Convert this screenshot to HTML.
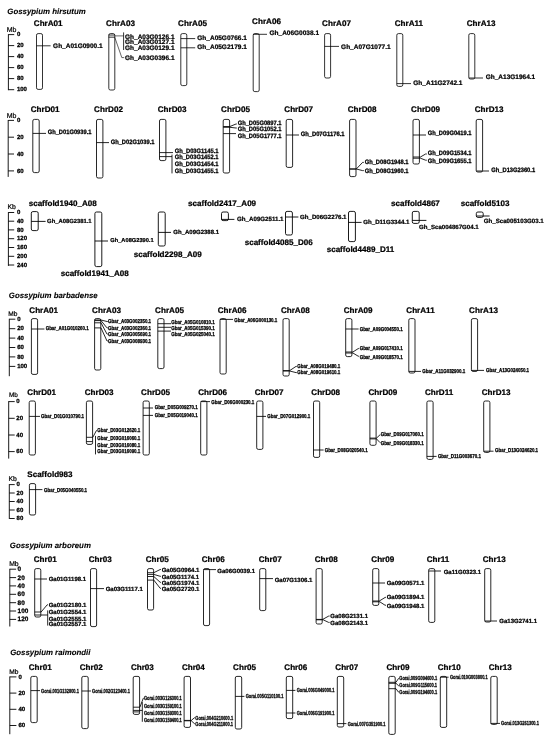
<!DOCTYPE html>
<html><head><meta charset="utf-8"><title>Chromosome map</title>
<style>
html,body{margin:0;padding:0;background:#fff}
svg{display:block;filter:blur(0.35px)}
text{font-family:"Liberation Sans",Arial,Helvetica,sans-serif;fill:#000;stroke:#000;stroke-width:0.24px;text-rendering:geometricPrecision}
.b{font-weight:bold}
.bi{font-weight:bold;font-style:italic;stroke-width:0.1px}
.r{font-weight:normal;stroke-width:0.2px}
.t{stroke-width:0.28px}
.c{stroke-width:0.28px}
rect,polyline{fill:none;stroke:#000}
</style></head><body>
<svg width="550" height="747" viewBox="0 0 550 747">
<rect x="0" y="0" width="550" height="747" style="fill:#fff;stroke:none"/>
<text x="7.3" y="13.5" font-size="7.85" class="bi">Gossypium hirsutum</text>
<text x="6.7" y="31.9" font-size="7.0" class="r">Mb</text>
<polyline points="8.4,34.2 8.4,90.2" stroke-width="0.9"/>
<polyline points="8.4,34.6 14.2,34.6" stroke-width="0.9"/>
<text x="16.9" y="36.3" font-size="6.0" class="b t">0</text>
<polyline points="8.4,45.6 14.2,45.6" stroke-width="0.9"/>
<text x="16.9" y="47.3" font-size="6.0" class="b t">20</text>
<polyline points="8.4,56.6 14.2,56.6" stroke-width="0.9"/>
<text x="16.9" y="58.3" font-size="6.0" class="b t">40</text>
<polyline points="8.4,67.6 14.2,67.6" stroke-width="0.9"/>
<text x="16.9" y="69.3" font-size="6.0" class="b t">60</text>
<polyline points="8.4,78.6 14.2,78.6" stroke-width="0.9"/>
<text x="16.9" y="80.3" font-size="6.0" class="b t">80</text>
<polyline points="8.4,89.7 14.2,89.7" stroke-width="0.9"/>
<text x="16.9" y="91.4" font-size="6.0" class="b t">100</text>
<text x="33.8" y="26.4" font-size="8.1" class="b">ChrA01</text>
<rect x="36.5" y="33.6" width="6.0" height="55.8" rx="1.6" ry="1.6" stroke-width="0.8"/>
<polyline points="36.5,45.8 50.6,45.8" stroke-width="0.8"/>
<text x="53.1" y="47.7" font-size="6.5" class="b">Gh_A01G0900.1</text>
<text x="106.1" y="26.4" font-size="8.1" class="b">ChrA03</text>
<rect x="108.8" y="33.6" width="6.0" height="56.4" rx="1.6" ry="1.6" stroke-width="0.8"/>
<polyline points="108.6,34.7 114.8,34.7" stroke-width="0.45"/>
<polyline points="108.6,35.9 123.6,35.9" stroke-width="0.6"/>
<polyline points="123.6,32.4 123.6,50.0" stroke-width="0.8"/>
<polyline points="108.6,37.4 114.8,37.4 121.8,57.6 124.2,57.6" stroke-width="0.6"/>
<text x="125.0" y="38.7" font-size="6.5" class="b">Gh_A03G0126.1</text>
<text x="125.0" y="44.0" font-size="6.5" class="b">Gh_A03G0127.1</text>
<text x="125.0" y="49.8" font-size="6.5" class="b">Gh_A03G0129.1</text>
<text x="125.0" y="60.1" font-size="6.5" class="b">Gh_A03G0396.1</text>
<text x="178.1" y="26.4" font-size="8.1" class="b">ChrA05</text>
<rect x="180.8" y="33.6" width="6.0" height="52.0" rx="1.6" ry="1.6" stroke-width="0.8"/>
<polyline points="180.8,38.6 195.2,38.6" stroke-width="0.8"/>
<text x="197.3" y="40.1" font-size="6.5" class="b">Gh_A05G0766.1</text>
<polyline points="180.8,47.8 195.2,47.8" stroke-width="0.8"/>
<text x="197.3" y="48.8" font-size="6.5" class="b">Gh_A05G2179.1</text>
<text x="252.1" y="24.0" font-size="8.1" class="b">ChrA06</text>
<rect x="253.2" y="33.6" width="6.0" height="58.0" rx="1.6" ry="1.6" stroke-width="0.8"/>
<polyline points="253.2,34.3 267.0,34.3" stroke-width="0.8"/>
<text x="269.5" y="35.3" font-size="6.5" class="b">Gh_A06G0038.1</text>
<text x="322.1" y="26.4" font-size="8.1" class="b">ChrA07</text>
<rect x="324.6" y="33.6" width="6.0" height="44.4" rx="1.6" ry="1.6" stroke-width="0.8"/>
<polyline points="324.6,46.4 339.0,46.4" stroke-width="0.8"/>
<text x="341.1" y="48.7" font-size="6.5" class="b">Gh_A07G1077.1</text>
<text x="394.7" y="26.4" font-size="8.1" class="b">ChrA11</text>
<rect x="396.8" y="33.6" width="6.0" height="52.8" rx="1.6" ry="1.6" stroke-width="0.8"/>
<polyline points="396.8,83.6 411.0,83.6" stroke-width="0.8"/>
<text x="413.3" y="85.1" font-size="6.5" class="b">Gh_A11G2742.1</text>
<text x="466.7" y="26.4" font-size="8.1" class="b">ChrA13</text>
<rect x="468.8" y="33.6" width="6.0" height="45.4" rx="1.6" ry="1.6" stroke-width="0.8"/>
<polyline points="468.8,78.0 483.0,78.0" stroke-width="0.8"/>
<text x="485.7" y="79.1" font-size="6.5" class="b">Gh_A13G1964.1</text>
<text x="6.7" y="117.5" font-size="7.0" class="r">Mb</text>
<polyline points="8.2,120.0 8.2,176.9" stroke-width="0.9"/>
<polyline points="8.2,120.4 14.0,120.4" stroke-width="0.9"/>
<text x="16.9" y="122.1" font-size="6.0" class="b t">0</text>
<polyline points="8.2,137.2 14.0,137.2" stroke-width="0.9"/>
<text x="16.9" y="138.9" font-size="6.0" class="b t">20</text>
<polyline points="8.2,154.0 14.0,154.0" stroke-width="0.9"/>
<text x="16.9" y="155.7" font-size="6.0" class="b t">40</text>
<polyline points="8.2,170.9 14.0,170.9" stroke-width="0.9"/>
<text x="16.9" y="172.6" font-size="6.0" class="b t">60</text>
<text x="30.7" y="112.2" font-size="8.1" class="b">ChrD01</text>
<rect x="32.8" y="119.4" width="6.4" height="53.2" rx="1.6" ry="1.6" stroke-width="0.85"/>
<polyline points="32.8,133.4 46.0,133.4" stroke-width="0.85"/>
<text x="47.7" y="134.3" font-size="6.3" class="b c" textLength="43.8" lengthAdjust="spacingAndGlyphs">Gh_D01G0939.1</text>
<text x="94.1" y="112.2" font-size="8.1" class="b">ChrD02</text>
<rect x="96.5" y="119.4" width="6.4" height="58.6" rx="1.6" ry="1.6" stroke-width="0.85"/>
<polyline points="96.5,142.6 109.0,142.6" stroke-width="0.85"/>
<text x="110.7" y="143.7" font-size="6.3" class="b c" textLength="43.8" lengthAdjust="spacingAndGlyphs">Gh_D02G1039.1</text>
<text x="157.7" y="112.2" font-size="8.1" class="b">ChrD03</text>
<rect x="159.5" y="119.4" width="6.4" height="41.2" rx="1.6" ry="1.6" stroke-width="0.85"/>
<polyline points="159.5,152.6 173.0,152.6" stroke-width="0.85"/>
<text x="174.7" y="152.5" font-size="6.3" class="b c" textLength="43.8" lengthAdjust="spacingAndGlyphs">Gh_D03G1145.1</text>
<polyline points="159.5,156.6 172.0,156.6" stroke-width="0.85"/>
<polyline points="172.0,154.6 172.0,173.4" stroke-width="0.85"/>
<text x="174.7" y="159.1" font-size="6.3" class="b c" textLength="43.8" lengthAdjust="spacingAndGlyphs">Gh_D03G1452.1</text>
<text x="174.7" y="165.9" font-size="6.3" class="b c" textLength="43.8" lengthAdjust="spacingAndGlyphs">Gh_D03G1454.1</text>
<text x="174.7" y="172.9" font-size="6.3" class="b c" textLength="43.8" lengthAdjust="spacingAndGlyphs">Gh_D03G1455.1</text>
<text x="221.1" y="112.2" font-size="8.1" class="b">ChrD05</text>
<rect x="223.2" y="119.4" width="6.4" height="53.6" rx="1.6" ry="1.6" stroke-width="0.85"/>
<polyline points="223.2,126.5 229.9,126.5 236.0,124.0 236.8,124.0" stroke-width="0.85"/>
<text x="237.7" y="125.0" font-size="6.3" class="b c" textLength="43.8" lengthAdjust="spacingAndGlyphs">Gh_D05G0897.1</text>
<polyline points="223.2,127.3 229.9,127.3 236.0,128.0 236.8,128.0" stroke-width="0.85"/>
<text x="237.7" y="131.4" font-size="6.3" class="b c" textLength="43.8" lengthAdjust="spacingAndGlyphs">Gh_D05G1052.1</text>
<polyline points="223.2,133.6 236.0,133.6" stroke-width="0.85"/>
<text x="237.7" y="138.1" font-size="6.3" class="b c" textLength="43.8" lengthAdjust="spacingAndGlyphs">Gh_D05G1777.1</text>
<text x="284.3" y="112.2" font-size="8.1" class="b">ChrD07</text>
<rect x="286.2" y="119.4" width="6.4" height="48.0" rx="1.6" ry="1.6" stroke-width="0.85"/>
<polyline points="286.2,135.0 299.0,135.0" stroke-width="0.85"/>
<text x="300.7" y="135.7" font-size="6.3" class="b c" textLength="43.8" lengthAdjust="spacingAndGlyphs">Gh_D07G1176.1</text>
<text x="347.7" y="112.2" font-size="8.1" class="b">ChrD08</text>
<rect x="349.6" y="119.4" width="6.4" height="57.2" rx="1.6" ry="1.6" stroke-width="0.85"/>
<polyline points="349.6,169.0 356.3,169.0 362.6,162.4 363.8,162.4" stroke-width="0.85"/>
<text x="364.7" y="163.7" font-size="6.3" class="b c" textLength="43.8" lengthAdjust="spacingAndGlyphs">Gh_D08G1948.1</text>
<polyline points="349.6,169.0 356.3,169.0 362.6,170.6 363.8,170.6" stroke-width="0.85"/>
<text x="364.7" y="172.9" font-size="6.3" class="b c" textLength="43.8" lengthAdjust="spacingAndGlyphs">Gh_D08G1960.1</text>
<text x="411.1" y="112.2" font-size="8.1" class="b">ChrD09</text>
<rect x="413.0" y="119.4" width="6.4" height="44.6" rx="1.6" ry="1.6" stroke-width="0.85"/>
<polyline points="413.0,135.0 426.0,135.0" stroke-width="0.85"/>
<text x="427.7" y="135.3" font-size="6.3" class="b c" textLength="43.8" lengthAdjust="spacingAndGlyphs">Gh_D09G0419.1</text>
<polyline points="413.0,157.0 420.4,157.0 425.6,154.0 426.8,154.0" stroke-width="0.85"/>
<text x="427.7" y="155.3" font-size="6.3" class="b c" textLength="43.8" lengthAdjust="spacingAndGlyphs">Gh_D09G1534.1</text>
<polyline points="413.0,158.2 420.4,158.2 425.6,160.2 426.8,160.2" stroke-width="0.85"/>
<text x="427.7" y="163.0" font-size="6.3" class="b c" textLength="43.8" lengthAdjust="spacingAndGlyphs">Gh_D09G1655.1</text>
<text x="474.7" y="112.2" font-size="8.1" class="b">ChrD13</text>
<rect x="476.2" y="119.4" width="6.4" height="52.6" rx="1.6" ry="1.6" stroke-width="0.85"/>
<polyline points="476.2,171.0 489.0,171.0" stroke-width="0.85"/>
<text x="491.3" y="171.7" font-size="6.3" class="b c" textLength="43.8" lengthAdjust="spacingAndGlyphs">Gh_D13G2360.1</text>
<text x="7.5" y="209.0" font-size="6.8" class="r">Kb</text>
<polyline points="8.4,212.1 8.4,265.9" stroke-width="0.9"/>
<polyline points="8.4,212.5 14.2,212.5" stroke-width="0.9"/>
<text x="17.0" y="214.2" font-size="6.0" class="b t">0</text>
<polyline points="8.4,221.2 14.2,221.2" stroke-width="0.9"/>
<text x="17.0" y="222.9" font-size="6.0" class="b t">40</text>
<polyline points="8.4,229.9 14.2,229.9" stroke-width="0.9"/>
<text x="17.0" y="231.6" font-size="6.0" class="b t">80</text>
<polyline points="8.4,238.7 14.2,238.7" stroke-width="0.9"/>
<text x="17.0" y="240.4" font-size="6.0" class="b t">120</text>
<polyline points="8.4,247.5 14.2,247.5" stroke-width="0.9"/>
<text x="17.0" y="249.2" font-size="6.0" class="b t">160</text>
<polyline points="8.4,256.3 14.2,256.3" stroke-width="0.9"/>
<text x="17.0" y="258.0" font-size="6.0" class="b t">200</text>
<polyline points="8.4,265.0 14.2,265.0" stroke-width="0.9"/>
<text x="17.0" y="266.7" font-size="6.0" class="b t">240</text>
<text x="28.7" y="205.5" font-size="8.05" class="b">scaffold1940_A08</text>
<rect x="31.3" y="211.6" width="6.9" height="19.0" rx="1.6" ry="1.6" stroke-width="0.9"/>
<polyline points="31.3,221.4 45.6,221.4" stroke-width="0.9"/>
<text x="47.1" y="222.7" font-size="5.85" class="b">Gh_A08G2381.1</text>
<rect x="94.9" y="212.0" width="6.9" height="54.6" rx="1.6" ry="1.6" stroke-width="0.9"/>
<polyline points="94.9,241.0 108.0,241.0" stroke-width="0.9"/>
<text x="110.3" y="242.0" font-size="5.7" class="b">Gh_A08G2390.1</text>
<text x="60.7" y="276.0" font-size="8.05" class="b">scaffold1941_A08</text>
<rect x="158.3" y="212.0" width="6.9" height="34.0" rx="1.6" ry="1.6" stroke-width="0.9"/>
<polyline points="158.3,232.4 171.0,232.4" stroke-width="0.9"/>
<text x="173.3" y="234.1" font-size="6.0" class="b">Gh_A09G2388.1</text>
<text x="133.7" y="257.0" font-size="8.05" class="b">scaffold2298_A09</text>
<text x="188.1" y="205.5" font-size="8.05" class="b">scaffold2417_A09</text>
<rect x="221.5" y="212.0" width="6.9" height="8.6" rx="1.6" ry="1.6" stroke-width="0.9"/>
<polyline points="221.5,219.4 234.4,219.4" stroke-width="0.9"/>
<text x="237.1" y="221.2" font-size="6.15" class="b">Gh_A09G2511.1</text>
<rect x="285.5" y="211.4" width="6.9" height="23.6" rx="1.6" ry="1.6" stroke-width="0.9"/>
<polyline points="285.5,217.0 298.4,217.0" stroke-width="0.9"/>
<text x="300.1" y="218.8" font-size="6.1" class="b">Gh_D06G2276.1</text>
<text x="244.7" y="244.6" font-size="8.05" class="b">scaffold4085_D06</text>
<rect x="348.5" y="211.4" width="6.9" height="30.2" rx="1.6" ry="1.6" stroke-width="0.9"/>
<polyline points="348.5,222.4 361.6,222.4" stroke-width="0.9"/>
<text x="363.3" y="224.2" font-size="6.1" class="b">Gh_D11G3344.1</text>
<text x="326.7" y="252.0" font-size="8.05" class="b">scaffold4489_D11</text>
<text x="391.1" y="205.5" font-size="8.05" class="b">scaffold4867</text>
<rect x="412.3" y="211.4" width="6.9" height="12.0" rx="1.6" ry="1.6" stroke-width="0.9"/>
<polyline points="412.3,220.4 426.4,220.4" stroke-width="0.9"/>
<text x="419.1" y="229.1" font-size="6.1" class="b">Gh_Sca004867G04.1</text>
<text x="460.7" y="205.5" font-size="8.05" class="b">scaffold5103</text>
<rect x="476.3" y="212.0" width="6.9" height="5.4" rx="1.6" ry="1.6" stroke-width="0.9"/>
<polyline points="476.3,216.0 489.6,216.0" stroke-width="0.9"/>
<text x="483.7" y="223.1" font-size="6.15" class="b">Gh_Sca005103G03.1</text>
<text x="8.8" y="297.8" font-size="7.85" class="bi">Gossypium barbadense</text>
<text x="8.3" y="316.2" font-size="6.6" class="r">Mb</text>
<polyline points="9.3,318.8 9.3,376.2" stroke-width="0.9"/>
<polyline points="9.3,319.2 15.3,319.2" stroke-width="0.9"/>
<text x="17.2" y="320.9" font-size="6.0" class="b t">0</text>
<polyline points="9.3,328.7 15.3,328.7" stroke-width="0.9"/>
<text x="17.2" y="330.4" font-size="6.0" class="b t">20</text>
<polyline points="9.3,338.1 15.3,338.1" stroke-width="0.9"/>
<text x="17.2" y="339.8" font-size="6.0" class="b t">40</text>
<polyline points="9.3,347.5 15.3,347.5" stroke-width="0.9"/>
<text x="17.2" y="349.2" font-size="6.0" class="b t">60</text>
<polyline points="9.3,356.9 15.3,356.9" stroke-width="0.9"/>
<text x="17.2" y="358.6" font-size="6.0" class="b t">80</text>
<polyline points="9.3,366.4 15.3,366.4" stroke-width="0.9"/>
<text x="17.2" y="368.1" font-size="6.0" class="b t">100</text>
<text x="29.3" y="312.6" font-size="8.1" class="b">ChrA01</text>
<rect x="31.4" y="318.6" width="6.2" height="55.8" rx="1.6" ry="1.6" stroke-width="0.85"/>
<polyline points="31.4,329.0 44.4,329.0" stroke-width="0.85"/>
<text x="45.7" y="329.6" font-size="5.7" class="b c" textLength="43.0" lengthAdjust="spacingAndGlyphs">Gbar_A01G010260.1</text>
<text x="92.1" y="312.6" font-size="8.1" class="b">ChrA03</text>
<rect x="94.6" y="318.6" width="6.2" height="51.4" rx="1.6" ry="1.6" stroke-width="0.85"/>
<polyline points="94.6,320.0 101.0,320.0 107.0,321.5 107.8,321.5" stroke-width="0.85"/>
<text x="108.1" y="323.2" font-size="5.7" class="b c" textLength="43.0" lengthAdjust="spacingAndGlyphs">Gbar_A03G002350.1</text>
<polyline points="94.6,320.6 101.0,320.6 107.0,327.9 107.8,327.9" stroke-width="0.85"/>
<text x="108.1" y="329.6" font-size="5.7" class="b c" textLength="43.0" lengthAdjust="spacingAndGlyphs">Gbar_A03G002360.1</text>
<polyline points="94.6,322.8 101.0,322.8 107.0,334.1 107.8,334.1" stroke-width="0.85"/>
<text x="108.1" y="335.8" font-size="5.7" class="b c" textLength="43.0" lengthAdjust="spacingAndGlyphs">Gbar_A03G005690.1</text>
<polyline points="94.6,327.9 101.0,327.9 107.0,341.0 107.8,341.0" stroke-width="0.85"/>
<text x="108.1" y="342.7" font-size="5.7" class="b c" textLength="43.0" lengthAdjust="spacingAndGlyphs">Gbar_A03G008930.1</text>
<text x="155.1" y="312.6" font-size="8.1" class="b">ChrA05</text>
<rect x="157.8" y="318.6" width="6.2" height="50.0" rx="1.6" ry="1.6" stroke-width="0.85"/>
<polyline points="157.8,323.7 171.0,323.7" stroke-width="0.85"/>
<text x="171.2" y="323.9" font-size="5.7" class="b c" textLength="43.6" lengthAdjust="spacingAndGlyphs">Gbar_A05G010810.1</text>
<polyline points="157.8,327.3 171.0,327.3" stroke-width="0.85"/>
<text x="171.2" y="329.5" font-size="5.7" class="b c" textLength="43.6" lengthAdjust="spacingAndGlyphs">Gbar_A05G015390.1</text>
<polyline points="157.8,331.1 171.0,331.1" stroke-width="0.85"/>
<text x="171.2" y="335.6" font-size="5.7" class="b c" textLength="43.6" lengthAdjust="spacingAndGlyphs">Gbar_A05G025040.1</text>
<text x="217.7" y="312.6" font-size="8.1" class="b">ChrA06</text>
<rect x="220.0" y="318.6" width="6.2" height="55.4" rx="1.6" ry="1.6" stroke-width="0.85"/>
<polyline points="220.0,319.4 233.0,319.4" stroke-width="0.85"/>
<text x="234.3" y="321.6" font-size="5.7" class="b c" textLength="43.0" lengthAdjust="spacingAndGlyphs">Gbar_A06G000130.1</text>
<text x="280.9" y="312.6" font-size="8.1" class="b">ChrA08</text>
<rect x="283.0" y="318.6" width="6.2" height="57.4" rx="1.6" ry="1.6" stroke-width="0.85"/>
<polyline points="283.0,370.6 289.7,370.6 296.0,366.4 296.8,366.4" stroke-width="0.85"/>
<text x="297.3" y="367.9" font-size="5.7" class="b c" textLength="43.0" lengthAdjust="spacingAndGlyphs">Gbar_A08G019480.1</text>
<polyline points="283.0,371.0 289.7,371.0 296.0,372.6 296.8,372.6" stroke-width="0.85"/>
<text x="297.3" y="374.4" font-size="5.7" class="b c" textLength="43.0" lengthAdjust="spacingAndGlyphs">Gbar_A08G019610.1</text>
<text x="343.7" y="312.6" font-size="8.1" class="b">ChrA09</text>
<rect x="345.7" y="318.6" width="6.2" height="38.0" rx="1.6" ry="1.6" stroke-width="0.85"/>
<polyline points="345.7,329.0 358.6,329.0" stroke-width="0.85"/>
<text x="359.7" y="330.6" font-size="5.7" class="b c" textLength="43.0" lengthAdjust="spacingAndGlyphs">Gbar_A09G004550.1</text>
<polyline points="345.7,352.0 352.9,352.0 358.2,348.6 359.2,348.6" stroke-width="0.85"/>
<text x="359.7" y="350.0" font-size="5.7" class="b c" textLength="43.0" lengthAdjust="spacingAndGlyphs">Gbar_A09G017410.1</text>
<polyline points="345.7,353.0 352.9,353.0 358.2,356.2 359.2,356.2" stroke-width="0.85"/>
<text x="359.7" y="358.5" font-size="5.7" class="b c" textLength="43.0" lengthAdjust="spacingAndGlyphs">Gbar_A09G018570.1</text>
<text x="406.3" y="312.6" font-size="8.1" class="b">ChrA11</text>
<rect x="408.8" y="318.6" width="6.2" height="54.4" rx="1.6" ry="1.6" stroke-width="0.85"/>
<polyline points="408.8,371.4 421.0,371.4" stroke-width="0.85"/>
<text x="422.3" y="373.0" font-size="5.7" class="b c" textLength="43.0" lengthAdjust="spacingAndGlyphs">Gbar_A11G032900.1</text>
<text x="469.1" y="312.6" font-size="8.1" class="b">ChrA13</text>
<rect x="471.4" y="318.6" width="6.2" height="52.8" rx="1.6" ry="1.6" stroke-width="0.85"/>
<polyline points="471.4,370.4 484.0,370.4" stroke-width="0.85"/>
<text x="486.1" y="371.6" font-size="5.7" class="b c" textLength="43.0" lengthAdjust="spacingAndGlyphs">Gbar_A13G024050.1</text>
<text x="8.9" y="396.8" font-size="6.4" class="r">Mb</text>
<polyline points="8.7,401.2 8.7,458.6" stroke-width="0.9"/>
<polyline points="8.7,401.6 14.7,401.6" stroke-width="0.9"/>
<text x="16.3" y="403.3" font-size="6.0" class="b t">0</text>
<polyline points="8.7,418.3 14.7,418.3" stroke-width="0.9"/>
<text x="16.3" y="420.0" font-size="6.0" class="b t">20</text>
<polyline points="8.7,435.0 14.7,435.0" stroke-width="0.9"/>
<text x="16.3" y="436.7" font-size="6.0" class="b t">40</text>
<polyline points="8.7,451.6 14.7,451.6" stroke-width="0.9"/>
<text x="16.3" y="453.3" font-size="6.0" class="b t">60</text>
<text x="27.3" y="395.0" font-size="8.1" class="b">ChrD01</text>
<rect x="29.2" y="401.0" width="6.2" height="54.0" rx="1.6" ry="1.6" stroke-width="0.85"/>
<polyline points="29.2,416.4 40.0,416.4" stroke-width="0.85"/>
<text x="41.1" y="417.6" font-size="5.7" class="b c" textLength="43.0" lengthAdjust="spacingAndGlyphs">Gbar_D01G010790.1</text>
<text x="84.7" y="395.0" font-size="8.1" class="b">ChrD03</text>
<rect x="86.4" y="401.0" width="6.2" height="43.4" rx="1.6" ry="1.6" stroke-width="0.85"/>
<polyline points="86.4,437.3 92.8,437.3 96.4,430.6 97.0,430.6" stroke-width="0.85"/>
<text x="97.3" y="431.9" font-size="5.7" class="b c" textLength="43.0" lengthAdjust="spacingAndGlyphs">Gbar_D03G012620.1</text>
<polyline points="86.4,441.6 92.5,441.6" stroke-width="0.85"/>
<polyline points="95.5,435.9 95.5,454.4" stroke-width="0.85"/>
<text x="97.3" y="439.6" font-size="5.7" class="b c" textLength="43.0" lengthAdjust="spacingAndGlyphs">Gbar_D03G016060.1</text>
<text x="97.3" y="446.8" font-size="5.7" class="b c" textLength="43.0" lengthAdjust="spacingAndGlyphs">Gbar_D03G016080.1</text>
<text x="97.3" y="453.1" font-size="5.7" class="b c" textLength="43.0" lengthAdjust="spacingAndGlyphs">Gbar_D03G016090.1</text>
<text x="141.1" y="395.0" font-size="8.1" class="b">ChrD05</text>
<rect x="143.1" y="401.0" width="6.2" height="54.0" rx="1.6" ry="1.6" stroke-width="0.85"/>
<polyline points="143.1,408.0 153.0,408.0" stroke-width="0.85"/>
<text x="154.7" y="409.0" font-size="5.7" class="b c" textLength="43.0" lengthAdjust="spacingAndGlyphs">Gbar_D05G009270.1</text>
<polyline points="143.1,415.4 153.0,415.4" stroke-width="0.85"/>
<text x="154.7" y="417.0" font-size="5.7" class="b c" textLength="43.0" lengthAdjust="spacingAndGlyphs">Gbar_D05G019040.1</text>
<text x="198.2" y="395.0" font-size="8.1" class="b">ChrD06</text>
<rect x="200.7" y="401.0" width="6.2" height="54.0" rx="1.6" ry="1.6" stroke-width="0.85"/>
<polyline points="200.7,401.6 210.0,401.6" stroke-width="0.85"/>
<text x="211.3" y="403.6" font-size="5.7" class="b c" textLength="43.0" lengthAdjust="spacingAndGlyphs">Gbar_D06G000230.1</text>
<text x="254.7" y="395.0" font-size="8.1" class="b">ChrD07</text>
<rect x="256.7" y="401.0" width="6.2" height="48.4" rx="1.6" ry="1.6" stroke-width="0.85"/>
<polyline points="256.7,416.4 266.0,416.4" stroke-width="0.85"/>
<text x="267.3" y="418.0" font-size="5.7" class="b c" textLength="43.0" lengthAdjust="spacingAndGlyphs">Gbar_D07G012900.1</text>
<text x="311.3" y="395.0" font-size="8.1" class="b">ChrD08</text>
<rect x="313.5" y="401.0" width="6.2" height="56.4" rx="1.6" ry="1.6" stroke-width="0.85"/>
<polyline points="313.5,450.0 323.6,450.0" stroke-width="0.85"/>
<text x="324.7" y="452.0" font-size="5.7" class="b c" textLength="43.0" lengthAdjust="spacingAndGlyphs">Gbar_D08G020540.1</text>
<text x="368.5" y="395.0" font-size="8.1" class="b">ChrD09</text>
<rect x="369.9" y="401.0" width="6.2" height="44.3" rx="1.6" ry="1.6" stroke-width="0.85"/>
<polyline points="369.9,438.1 376.5,438.1 380.0,434.8 380.4,434.8" stroke-width="0.85"/>
<text x="380.7" y="436.4" font-size="5.7" class="b c" textLength="43.0" lengthAdjust="spacingAndGlyphs">Gbar_D09G017060.1</text>
<polyline points="369.9,438.9 376.5,438.9 380.0,442.6 380.4,442.6" stroke-width="0.85"/>
<text x="380.7" y="444.8" font-size="5.7" class="b c" textLength="43.0" lengthAdjust="spacingAndGlyphs">Gbar_D09G018330.1</text>
<text x="424.9" y="395.0" font-size="8.1" class="b">ChrD11</text>
<rect x="426.9" y="401.0" width="6.2" height="58.4" rx="1.6" ry="1.6" stroke-width="0.85"/>
<polyline points="426.9,456.4 436.6,456.4" stroke-width="0.85"/>
<text x="437.9" y="458.0" font-size="5.7" class="b c" textLength="43.0" lengthAdjust="spacingAndGlyphs">Gbar_D11G003670.1</text>
<text x="481.7" y="395.0" font-size="8.1" class="b">ChrD13</text>
<rect x="483.7" y="401.0" width="6.2" height="51.4" rx="1.6" ry="1.6" stroke-width="0.85"/>
<polyline points="483.7,451.2 493.5,451.2" stroke-width="0.85"/>
<text x="495.1" y="452.4" font-size="5.7" class="b c" textLength="43.0" lengthAdjust="spacingAndGlyphs">Gbar_D13G024620.1</text>
<text x="8.5" y="480.8" font-size="6.8" class="r">Kb</text>
<polyline points="9.3,484.2 9.3,518.9" stroke-width="0.9"/>
<polyline points="9.3,484.6 14.7,484.6" stroke-width="0.9"/>
<text x="16.6" y="486.3" font-size="6.0" class="b t">0</text>
<polyline points="9.3,493.0 14.7,493.0" stroke-width="0.9"/>
<text x="16.6" y="494.7" font-size="6.0" class="b t">20</text>
<polyline points="9.3,501.5 14.7,501.5" stroke-width="0.9"/>
<text x="16.6" y="503.2" font-size="6.0" class="b t">40</text>
<polyline points="9.3,510.0 14.7,510.0" stroke-width="0.9"/>
<text x="16.6" y="511.7" font-size="6.0" class="b t">60</text>
<polyline points="9.3,518.5 14.7,518.5" stroke-width="0.9"/>
<text x="16.6" y="520.2" font-size="6.0" class="b t">80</text>
<text x="27.3" y="477.0" font-size="8.05" class="b">Scaffold983</text>
<rect x="29.4" y="483.6" width="6.2" height="31.4" rx="1.6" ry="1.6" stroke-width="0.85"/>
<polyline points="29.4,489.6 42.4,489.6" stroke-width="0.85"/>
<text x="44.1" y="491.6" font-size="5.7" class="b c" textLength="43.0" lengthAdjust="spacingAndGlyphs">Gbar_D05G040550.1</text>
<text x="9.8" y="547.5" font-size="7.85" class="bi">Gossypium arboreum</text>
<text x="9.2" y="566.1" font-size="6.8" class="r">Mb</text>
<polyline points="9.8,568.8 9.8,626.5" stroke-width="0.9"/>
<polyline points="9.8,569.2 16.1,569.2" stroke-width="0.9"/>
<text x="17.6" y="571.1" font-size="6.4" class="b t">0</text>
<polyline points="9.8,577.6 16.1,577.6" stroke-width="0.9"/>
<text x="17.6" y="579.5" font-size="6.4" class="b t">20</text>
<polyline points="9.8,585.9 16.1,585.9" stroke-width="0.9"/>
<text x="17.6" y="587.8" font-size="6.4" class="b t">40</text>
<polyline points="9.8,594.3 16.1,594.3" stroke-width="0.9"/>
<text x="17.6" y="596.2" font-size="6.4" class="b t">60</text>
<polyline points="9.8,602.7 16.1,602.7" stroke-width="0.9"/>
<text x="17.6" y="604.6" font-size="6.4" class="b t">80</text>
<polyline points="9.8,611.0 16.1,611.0" stroke-width="0.9"/>
<text x="17.6" y="612.9" font-size="6.4" class="b t">100</text>
<polyline points="9.8,619.4 16.1,619.4" stroke-width="0.9"/>
<text x="17.6" y="621.3" font-size="6.4" class="b t">120</text>
<text x="33.7" y="562.3" font-size="8.1" class="b">Chr01</text>
<rect x="34.7" y="568.6" width="6.1" height="48.4" rx="1.6" ry="1.6" stroke-width="0.85"/>
<polyline points="34.7,579.0 47.0,579.0" stroke-width="0.85"/>
<text x="48.7" y="580.6" font-size="6.0" class="b">Ga01G1198.1</text>
<polyline points="34.7,612.0 41.1,612.0 47.2,604.8 48.0,604.8" stroke-width="0.85"/>
<text x="48.7" y="607.0" font-size="6.0" class="b">Ga01G2180.1</text>
<polyline points="34.7,615.0 47.7,615.0" stroke-width="0.85"/>
<polyline points="47.7,610.4 47.7,625.6" stroke-width="0.85"/>
<text x="48.7" y="614.2" font-size="6.0" class="b">Ga01G2554.1</text>
<text x="48.7" y="620.6" font-size="6.0" class="b">Ga01G2555.1</text>
<text x="48.7" y="626.2" font-size="6.0" class="b">Ga01G2557.1</text>
<text x="88.7" y="562.3" font-size="8.1" class="b">Chr03</text>
<rect x="90.5" y="568.6" width="6.1" height="58.0" rx="1.6" ry="1.6" stroke-width="0.85"/>
<polyline points="90.5,588.6 104.0,588.6" stroke-width="0.85"/>
<text x="105.7" y="591.2" font-size="6.0" class="b">Ga03G1117.1</text>
<text x="145.7" y="562.3" font-size="8.1" class="b">Chr05</text>
<rect x="147.5" y="568.6" width="6.1" height="41.4" rx="1.6" ry="1.6" stroke-width="0.85"/>
<polyline points="147.5,572.7 153.8,572.7 160.2,569.5 161.0,569.5" stroke-width="0.85"/>
<text x="161.7" y="571.8" font-size="6.0" class="b">Ga05G0964.1</text>
<polyline points="147.5,574.4 153.8,574.4 160.2,576.3 161.0,576.3" stroke-width="0.85"/>
<text x="161.7" y="578.6" font-size="6.0" class="b">Ga05G1174.1</text>
<polyline points="147.5,576.5 153.8,576.5 160.2,582.3 161.0,582.3" stroke-width="0.85"/>
<text x="161.7" y="584.6" font-size="6.0" class="b">Ga05G1974.1</text>
<polyline points="147.5,580.1 153.8,580.1 160.2,588.3 161.0,588.3" stroke-width="0.85"/>
<text x="161.7" y="590.6" font-size="6.0" class="b">Ga05G2720.1</text>
<text x="201.7" y="562.3" font-size="8.1" class="b">Chr06</text>
<rect x="203.5" y="568.6" width="6.1" height="57.0" rx="1.6" ry="1.6" stroke-width="0.85"/>
<polyline points="203.5,569.6 216.0,569.6" stroke-width="0.85"/>
<text x="217.3" y="572.6" font-size="6.0" class="b">Ga06G0039.1</text>
<text x="258.7" y="562.3" font-size="8.1" class="b">Chr07</text>
<rect x="259.7" y="568.6" width="6.1" height="42.0" rx="1.6" ry="1.6" stroke-width="0.85"/>
<polyline points="259.7,578.6 273.0,578.6" stroke-width="0.85"/>
<text x="274.7" y="581.6" font-size="6.0" class="b">Ga07G1306.1</text>
<text x="314.7" y="562.3" font-size="8.1" class="b">Chr08</text>
<rect x="316.1" y="568.6" width="6.1" height="55.4" rx="1.6" ry="1.6" stroke-width="0.85"/>
<polyline points="316.1,619.4 322.7,619.4 328.8,616.0 329.6,616.0" stroke-width="0.85"/>
<text x="330.3" y="617.8" font-size="6.0" class="b">Ga08G2131.1</text>
<polyline points="316.1,619.8 323.2,619.8 328.6,622.4 329.6,622.4" stroke-width="0.85"/>
<text x="330.3" y="624.6" font-size="6.0" class="b">Ga08G2143.1</text>
<text x="371.3" y="562.3" font-size="8.1" class="b">Chr09</text>
<rect x="372.7" y="568.6" width="6.1" height="36.8" rx="1.6" ry="1.6" stroke-width="0.85"/>
<polyline points="372.7,583.0 385.0,583.0" stroke-width="0.85"/>
<text x="386.7" y="584.8" font-size="6.0" class="b">Ga09G0571.1</text>
<polyline points="372.7,601.0 379.3,601.0 385.2,597.4 386.0,597.4" stroke-width="0.85"/>
<text x="386.7" y="599.2" font-size="6.0" class="b">Ga09G1894.1</text>
<polyline points="372.7,601.8 379.8,601.8 385.0,605.2 386.0,605.2" stroke-width="0.85"/>
<text x="386.7" y="608.0" font-size="6.0" class="b">Ga09G1948.1</text>
<text x="426.7" y="562.3" font-size="8.1" class="b">Chr11</text>
<rect x="428.7" y="568.6" width="6.1" height="53.8" rx="1.6" ry="1.6" stroke-width="0.85"/>
<polyline points="428.7,571.0 441.0,571.0" stroke-width="0.85"/>
<text x="443.7" y="573.6" font-size="6.0" class="b">Ga11G0323.1</text>
<text x="482.7" y="562.3" font-size="8.1" class="b">Chr13</text>
<rect x="484.7" y="568.6" width="6.1" height="53.4" rx="1.6" ry="1.6" stroke-width="0.85"/>
<polyline points="484.7,621.0 497.0,621.0" stroke-width="0.85"/>
<text x="499.3" y="623.2" font-size="6.0" class="b">Ga13G2741.1</text>
<text x="10.2" y="654.7" font-size="7.85" class="bi">Gossypium raimondii</text>
<text x="9.2" y="674.0" font-size="6.6" class="r">Mb</text>
<polyline points="9.8,676.5 9.8,734.2" stroke-width="0.9"/>
<polyline points="9.8,676.9 16.4,676.9" stroke-width="0.9"/>
<text x="18.4" y="678.6" font-size="6.0" class="b t">0</text>
<polyline points="9.8,693.1 16.4,693.1" stroke-width="0.9"/>
<text x="18.4" y="694.8" font-size="6.0" class="b t">20</text>
<polyline points="9.8,709.3 16.4,709.3" stroke-width="0.9"/>
<text x="18.4" y="711.0" font-size="6.0" class="b t">40</text>
<polyline points="9.8,725.5 16.4,725.5" stroke-width="0.9"/>
<text x="18.4" y="727.2" font-size="6.0" class="b t">60</text>
<text x="28.7" y="670.0" font-size="8.1" class="b">Chr01</text>
<rect x="30.8" y="676.4" width="6.4" height="46.2" rx="1.6" ry="1.6" stroke-width="0.85"/>
<polyline points="30.8,690.6 40.0,690.6" stroke-width="0.85"/>
<text x="41.1" y="693.0" font-size="5.9" class="b c" textLength="37.8" lengthAdjust="spacingAndGlyphs">Gorai.001G132800.1</text>
<text x="79.7" y="670.0" font-size="8.1" class="b">Chr02</text>
<rect x="81.8" y="676.4" width="6.4" height="52.2" rx="1.6" ry="1.6" stroke-width="0.85"/>
<polyline points="81.8,691.0 91.0,691.0" stroke-width="0.85"/>
<text x="92.1" y="693.0" font-size="5.9" class="b c" textLength="37.8" lengthAdjust="spacingAndGlyphs">Gorai.002G123400.1</text>
<text x="130.9" y="670.0" font-size="8.1" class="b">Chr03</text>
<rect x="133.2" y="676.4" width="6.4" height="38.0" rx="1.6" ry="1.6" stroke-width="0.85"/>
<polyline points="133.2,707.2 139.9,707.2 143.3,698.2 143.8,698.2" stroke-width="0.85"/>
<text x="144.0" y="700.4" font-size="5.9" class="b c" textLength="37.8" lengthAdjust="spacingAndGlyphs">Gorai.003G126300.1</text>
<polyline points="133.2,710.4 142.3,710.4" stroke-width="0.85"/>
<polyline points="133.2,711.9 139.7,711.9" stroke-width="0.85"/>
<polyline points="142.3,702.1 142.3,721.8" stroke-width="0.85"/>
<text x="144.0" y="707.7" font-size="5.9" class="b c" textLength="37.8" lengthAdjust="spacingAndGlyphs">Gorai.003G159100.1</text>
<text x="144.0" y="714.7" font-size="5.9" class="b c" textLength="37.8" lengthAdjust="spacingAndGlyphs">Gorai.003G159300.1</text>
<text x="144.0" y="721.7" font-size="5.9" class="b c" textLength="37.8" lengthAdjust="spacingAndGlyphs">Gorai.003G159400.1</text>
<text x="181.9" y="670.0" font-size="8.1" class="b">Chr04</text>
<rect x="184.1" y="676.4" width="6.4" height="51.0" rx="1.6" ry="1.6" stroke-width="0.85"/>
<polyline points="184.1,720.4 191.3,720.4 194.4,717.8 195.0,717.8" stroke-width="0.85"/>
<text x="195.3" y="719.8" font-size="5.9" class="b c" textLength="37.8" lengthAdjust="spacingAndGlyphs">Gorai.004G210600.1</text>
<polyline points="184.1,720.8 191.3,720.8 194.4,723.6 195.0,723.6" stroke-width="0.85"/>
<text x="195.3" y="726.0" font-size="5.9" class="b c" textLength="37.8" lengthAdjust="spacingAndGlyphs">Gorai.004G211800.1</text>
<text x="233.1" y="670.0" font-size="8.1" class="b">Chr05</text>
<rect x="235.3" y="676.4" width="6.4" height="52.6" rx="1.6" ry="1.6" stroke-width="0.85"/>
<polyline points="235.3,696.4 244.4,696.4" stroke-width="0.85"/>
<text x="245.7" y="697.9" font-size="5.9" class="b c" textLength="37.8" lengthAdjust="spacingAndGlyphs">Gorai.005G110100.1</text>
<text x="284.3" y="670.0" font-size="8.1" class="b">Chr06</text>
<rect x="286.3" y="676.4" width="6.4" height="42.2" rx="1.6" ry="1.6" stroke-width="0.85"/>
<polyline points="286.3,690.4 295.4,690.4" stroke-width="0.85"/>
<text x="296.7" y="692.0" font-size="5.9" class="b c" textLength="37.8" lengthAdjust="spacingAndGlyphs">Gorai.006G049000.1</text>
<polyline points="286.3,713.0 295.4,713.0" stroke-width="0.85"/>
<text x="296.7" y="714.5" font-size="5.9" class="b c" textLength="37.8" lengthAdjust="spacingAndGlyphs">Gorai.006G191900.1</text>
<text x="335.3" y="670.0" font-size="8.1" class="b">Chr07</text>
<rect x="337.3" y="676.4" width="6.4" height="50.6" rx="1.6" ry="1.6" stroke-width="0.85"/>
<polyline points="337.3,723.6 346.4,723.6" stroke-width="0.85"/>
<text x="347.7" y="725.8" font-size="5.9" class="b c" textLength="37.8" lengthAdjust="spacingAndGlyphs">Gorai.007G351900.1</text>
<text x="386.5" y="670.0" font-size="8.1" class="b">Chr09</text>
<rect x="388.8" y="676.4" width="6.4" height="58.0" rx="1.6" ry="1.6" stroke-width="0.85"/>
<polyline points="388.8,682.3 396.0,682.3 398.4,678.6 399.0,678.6" stroke-width="0.85"/>
<text x="399.3" y="680.4" font-size="5.9" class="b c" textLength="37.8" lengthAdjust="spacingAndGlyphs">Gorai.009G094600.1</text>
<polyline points="388.8,683.3 396.0,683.3 398.4,685.6 399.0,685.6" stroke-width="0.85"/>
<text x="399.3" y="687.4" font-size="5.9" class="b c" textLength="37.8" lengthAdjust="spacingAndGlyphs">Gorai.009G115600.1</text>
<polyline points="388.8,688.7 396.0,688.7 398.4,692.0 399.0,692.0" stroke-width="0.85"/>
<text x="399.3" y="693.8" font-size="5.9" class="b c" textLength="37.8" lengthAdjust="spacingAndGlyphs">Gorai.009G194600.1</text>
<text x="437.7" y="670.0" font-size="8.1" class="b">Chr10</text>
<rect x="440.3" y="676.4" width="6.4" height="51.0" rx="1.6" ry="1.6" stroke-width="0.85"/>
<polyline points="440.3,677.2 448.6,677.2" stroke-width="0.85"/>
<text x="449.9" y="679.2" font-size="5.9" class="b c" textLength="37.8" lengthAdjust="spacingAndGlyphs">Gorai.010G003800.1</text>
<text x="488.7" y="670.0" font-size="8.1" class="b">Chr13</text>
<rect x="490.8" y="676.4" width="6.4" height="48.0" rx="1.6" ry="1.6" stroke-width="0.85"/>
<polyline points="490.8,723.4 500.0,723.4" stroke-width="0.85"/>
<text x="501.1" y="725.4" font-size="5.9" class="b c" textLength="37.8" lengthAdjust="spacingAndGlyphs">Gorai.013G261300.1</text>
</svg>
</body></html>
